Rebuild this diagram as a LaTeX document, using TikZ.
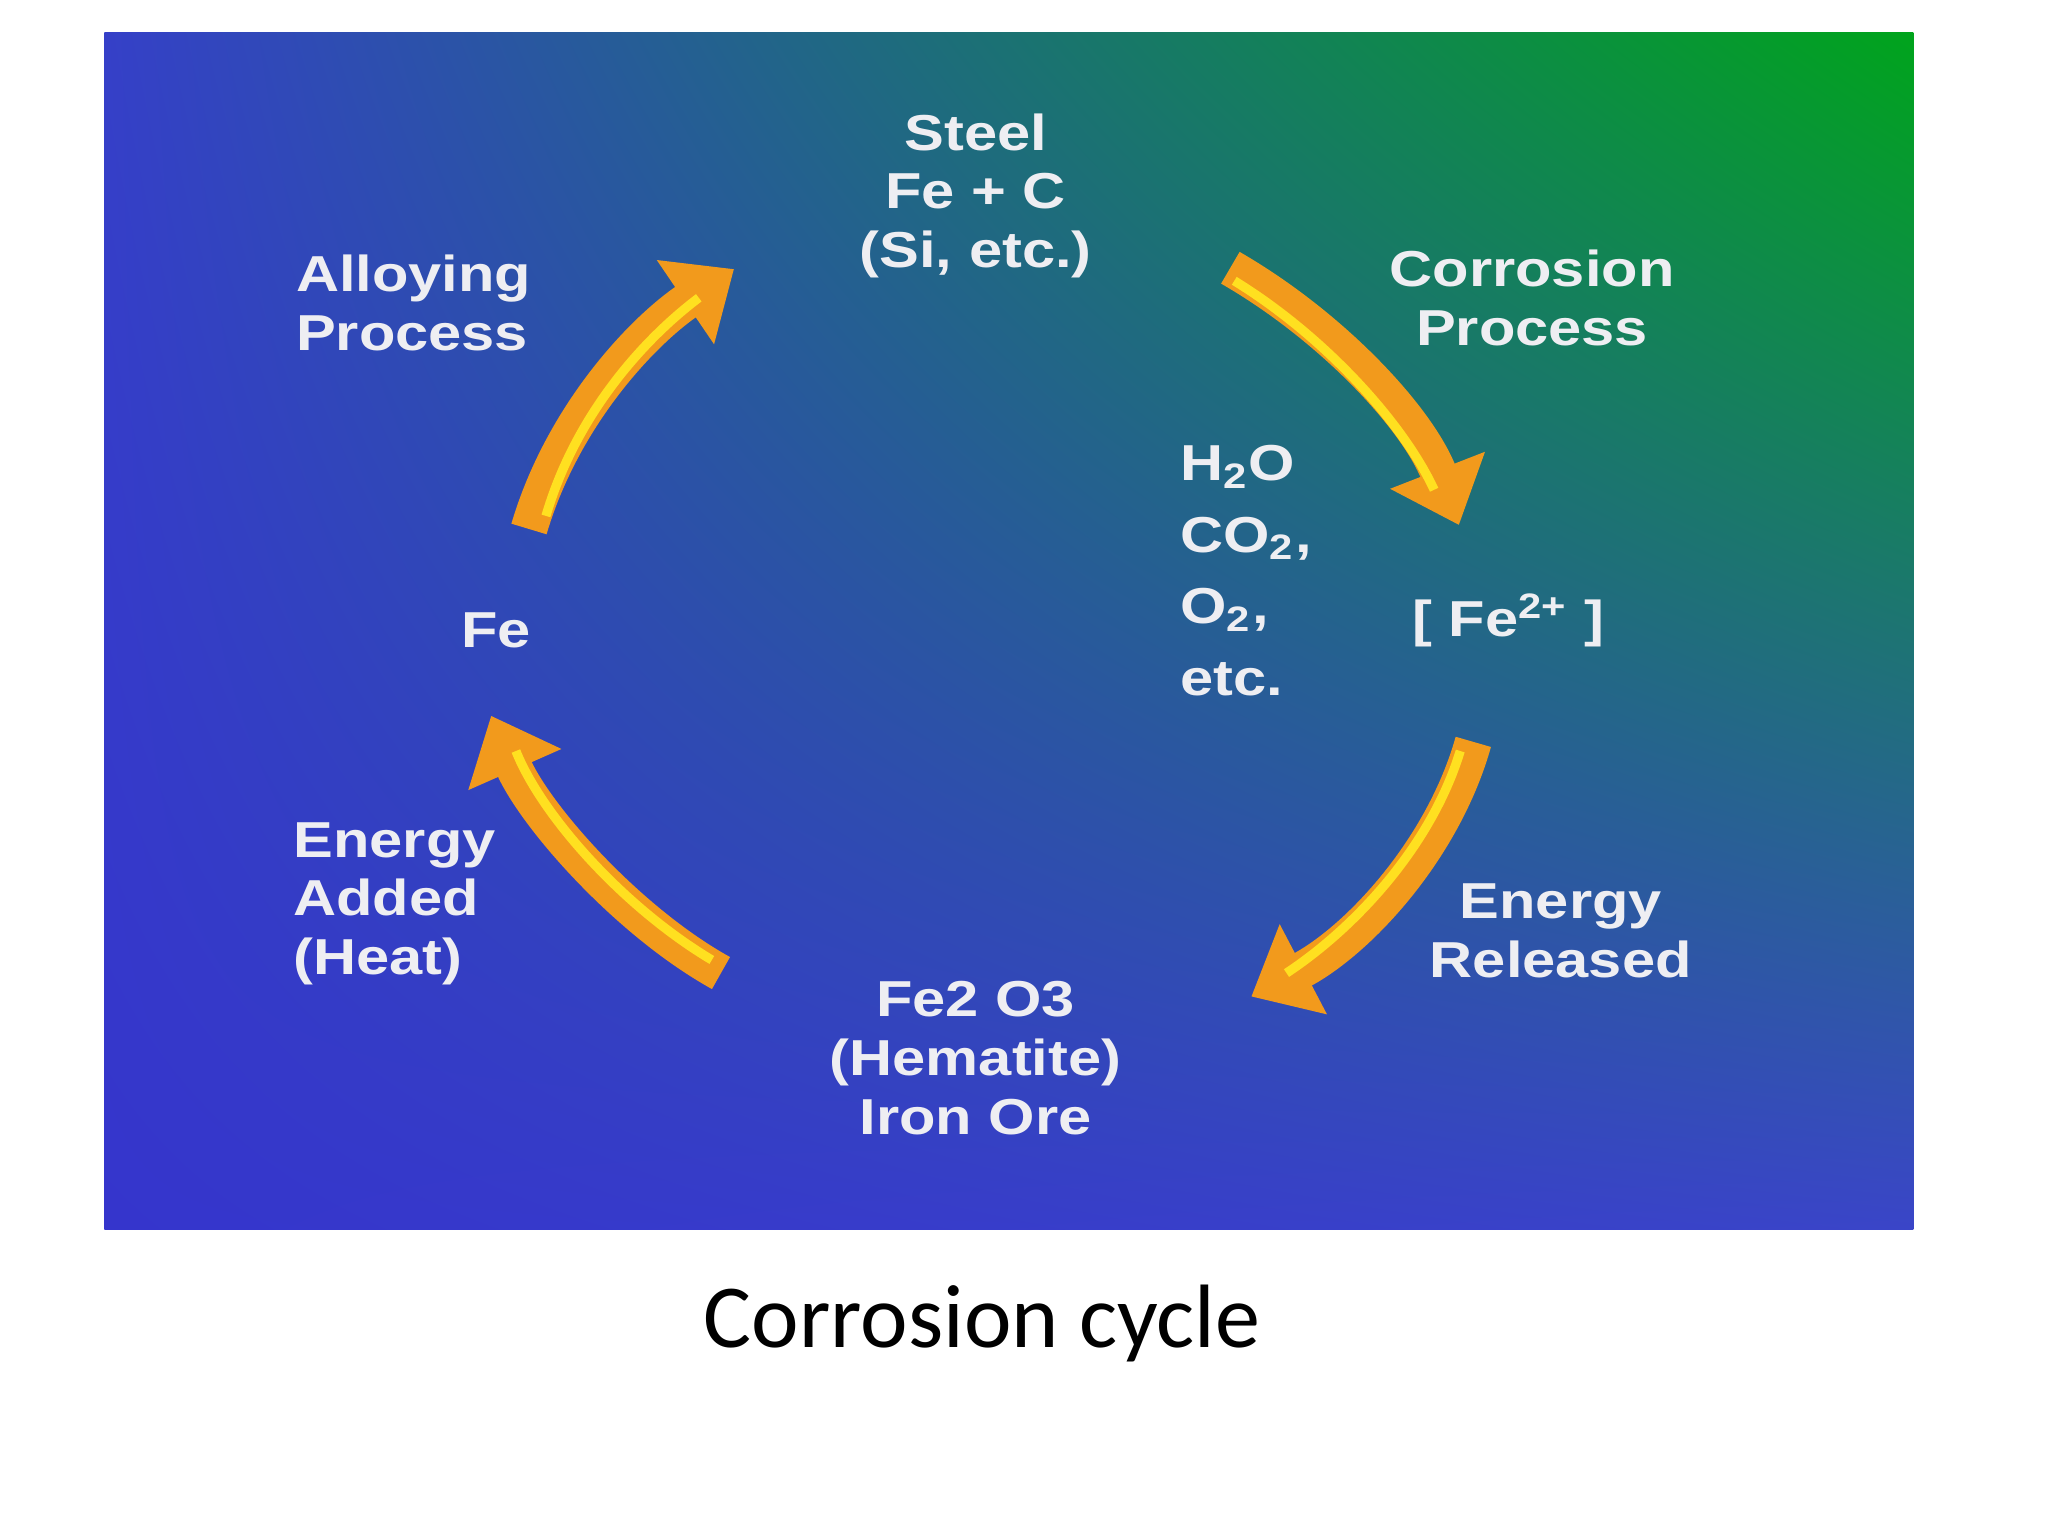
\documentclass[tikz,border=0pt]{standalone}
\usepackage{fontspec}
\setmainfont{Liberation Sans}
\newfontfamily\lblfont[FakeStretch=1.18]{Liberation Sans}
\newfontfamily\capfont{Carlito}
\usetikzlibrary{arrows.meta,shadings}
\definecolor{bgblue}{HTML}{3535CC}
\definecolor{bgtl}{HTML}{3540C8}
\definecolor{bggreen}{HTML}{00A41C}
\definecolor{bgbr}{HTML}{3A45C8}
\definecolor{arrorange}{HTML}{F29A1C}
\definecolor{arryellow}{HTML}{FFE020}
\definecolor{txt}{HTML}{EEEEF2}
\tikzset{
  lbl/.style={text=txt,font=\lblfont\bfseries\fontsize{11}{12.8}\selectfont,align=center,inner sep=0pt},
  lblL/.style={lbl,align=left,anchor=west},
  bigarrow/.style={line width=8pt,arrorange,-{Triangle[length=0.45cm,width=0.75cm]}},
  hilite/.style={line width=2pt,arryellow}
}
\begin{document}
\begin{tikzpicture}[x=0.01cm,y=-0.01cm]
\useasboundingbox (0,0) rectangle (1568,1176);
\fill[white] (0,0) rectangle (1568,1176);
\shade[upper left=bgtl,upper right=bggreen,lower left=bgblue,lower right=bgbr] (80,25) rectangle (1465,941);
% text nodes
\node[lbl] (steel) at (747,150) {Steel\\Fe + C\\(Si, etc.)};
\node[lblL] (alloy) at (226,232) {Alloying\\Process};
\node[lbl] (corr) at (1173,228) {Corrosion\\Process};
\node[lblL,font=\lblfont\bfseries\fontsize{11}{15.6}\selectfont] (chem) at (903,437) {H\textsubscript{2}O\\CO\textsubscript{2},\\O\textsubscript{2},\\etc.};
\node[lbl] (fe2) at (1155,475) {[ Fe\textsuperscript{2+} ]};
\node[lbl] (fe) at (380,483) {Fe};
\node[lblL] (eadd) at (224,692) {Energy\\Added\\(Heat)};
\node[lbl] (erel) at (1195,713) {Energy\\Released};
\node[lbl] (ore) at (747,810) {Fe2 O3\\(Hematite)\\Iron Ore};
\node[font=\capfont\fontsize{19.6}{22}\selectfont,inner sep=0pt] (cap) at (752,1013) {Corrosion cycle};
% arrows
\coordinate (a1s) at (405,405); \coordinate (a1e) at (562,206);
\coordinate (a2s) at (942,205); \coordinate (a2e) at (1117,402);
\coordinate (a3s) at (1128,568); \coordinate (a3e) at (958,763);
\coordinate (a4s) at (552,745); \coordinate (a4e) at (376,548);
\draw[bigarrow] (a1s) .. controls (430,320) and (490,255) .. (a1e);
\draw[hilite] (418,395) .. controls (440,320) and (490,262) .. (535,228);
\draw[bigarrow] (a2s) .. controls (1020,250) and (1085,320) .. (a2e);
\draw[hilite] (945,215) .. controls (1015,258) and (1075,325) .. (1098,375);
\draw[bigarrow] (a3s) .. controls (1105,650) and (1040,720) .. (a3e);
\draw[hilite] (1118,575) .. controls (1095,650) and (1035,712) .. (985,745);
\draw[bigarrow] (a4s) .. controls (480,705) and (410,625) .. (a4e);
\draw[hilite] (545,735) .. controls (478,695) and (415,625) .. (395,575);
\end{tikzpicture}
\end{document}
